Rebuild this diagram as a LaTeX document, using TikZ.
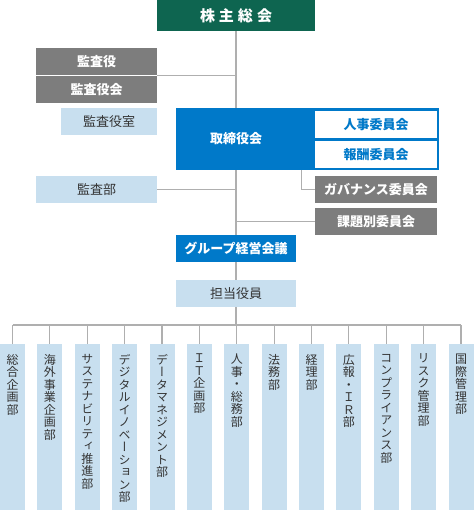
\documentclass[tikz,border=0pt]{standalone}
\usepackage{fontspec}
\newfontfamily\jp{Noto Sans CJK JP}
\newfontfamily\jptate[RawFeature=+vert]{Noto Sans CJK JP}
\usetikzlibrary{positioning, calc}
\definecolor{cG}{RGB}{14,101,80}
\definecolor{cB}{RGB}{0,121,201}
\definecolor{cK}{RGB}{125,125,125}
\definecolor{cP}{RGB}{200,223,239}
\definecolor{cL}{RGB}{175,175,175}
\definecolor{cT}{RGB}{51,51,51}

\begin{document}
\begin{tikzpicture}[x=1pt, y=-1pt, font=\jp\fontsize{13}{15}\selectfont]

    \tikzstyle{box} = [rectangle, inner sep=0pt, minimum height=27pt, text centered]
    \tikzstyle{graybox} = [box, fill=cK, text=white, font=\jp\fontsize{13}{15}\selectfont\bfseries]
    \tikzstyle{palebox} = [box, fill=cP, text=cT]
    \tikzstyle{bluebox} = [box, fill=cB, text=white, font=\jp\fontsize{13}{15}\selectfont\bfseries]
    \tikzstyle{whitebox} = [box, fill=white, text=cB, minimum width=122pt, font=\jp\fontsize{13}{15}\selectfont\bfseries]
    \tikzstyle{deptbox} = [rectangle, fill=cP, minimum width=25pt, minimum height=166pt, inner sep=0pt]
    \tikzstyle{depttext} = [anchor=north, align=center, inner sep=0pt, text=cT, font=\jptate\fontsize{12}{12.5}\selectfont]
    \tikzstyle{link} = [draw=cL, line width=1.2pt]

    \useasboundingbox (0,0) rectangle (474,510);

    % General meeting
    \node[box, fill=cG, text=white, minimum width=158pt, minimum height=31pt, font=\jp\fontsize{15}{17}\selectfont\bfseries] (soukai) at (236,15.5) {株\kern4pt 主\kern4pt 総\kern4pt 会};

    % Auditors
    \node[graybox, minimum width=121pt] (kansayaku) at (96.5,61.5) {監査役};
    \node[graybox, minimum width=121pt] (kansayakukai) at (96.5,90) {監査役会};
    \node[palebox, minimum width=96pt] (shitsu) at (109,121.5) {監査役室};

    % Board of directors
    \node[bluebox, minimum width=263pt, minimum height=62pt] (tori) at (307.5,139) {};
    \node[text=white, inner sep=0pt, font=\jp\fontsize{13}{15}\selectfont\bfseries] (toritxt) at (236,139) {取締役会};
    \node[whitebox] (jinji) at (376,124.5) {人事委員会};
    \node[whitebox] (houshu) at (376,154.5) {報酬委員会};

    % Committees and audit
    \node[palebox, minimum width=121pt] (kansabu) at (96.5,189.5) {監査部};
    \node[graybox, minimum width=122pt] (gov) at (376,189.5) {ガバナンス委員会};
    \node[graybox, minimum width=122pt] (kadai) at (376,221.5) {課題別委員会};

    % Management
    \node[bluebox, minimum width=120pt] (group) at (236,248.5) {グループ経営会議};
    \node[palebox, minimum width=120pt] (tantou) at (236,293.5) {担当役員};
    \coordinate (bus) at (236,325);

    % Departments
    \foreach \name [count=\i from 0] in {
        {総\\合\\企\\画\\部},
        {海\\外\\事\\業\\企\\画\\部},
        {サ\\ス\\テ\\ナ\\ビ\\リ\\テ\\ィ\\推\\進\\部},
        {デ\\ジ\\タ\\ル\\イ\\ノ\\ベ\\ー\\シ\\ョ\\ン\\部},
        {デ\\ー\\タ\\マ\\ネ\\ジ\\メ\\ン\\ト\\部},
        {Ｉ\\Ｔ\\企\\画\\部},
        {人\\事\\・\\総\\務\\部},
        {法\\務\\部},
        {経\\理\\部},
        {広\\報\\・\\Ｉ\\Ｒ\\部},
        {コ\\ン\\プ\\ラ\\イ\\ア\\ン\\ス\\部},
        {リ\\ス\\ク\\管\\理\\部},
        {国\\際\\管\\理\\部}} {
        \node[deptbox] (d\i) at ({12.5+37.375*\i},427) {};
        \node[depttext] (t\i) at ($(d\i.north)+(0,10)$) {\name};
    }

    % Lines
    \draw[link] (soukai.south) -- (soukai.south |- tori.north);
    \draw[link] (kansayaku.south east) -- (soukai.south |- kansayaku.south east);
    \draw[link] (group.north |- tori.south) -- (group.north);
    \draw[link] (kansabu.east) -- (group.north |- kansabu.east);
    \draw[link] (kadai.west) -- (group.north |- kadai.west);
    \draw[link] ([xshift=-13pt]gov.west |- tori.south) |- (gov.west);
    \draw[link] (group.south) -- (tantou.north);
    \draw[link] (tantou.south) -- (bus);
    \draw[link] (d0.north |- bus) -- (d12.north |- bus);
    \foreach \i in {0,...,12}
        \draw[link] (d\i.north |- bus) -- (d\i.north);
\end{tikzpicture}
\end{document}
